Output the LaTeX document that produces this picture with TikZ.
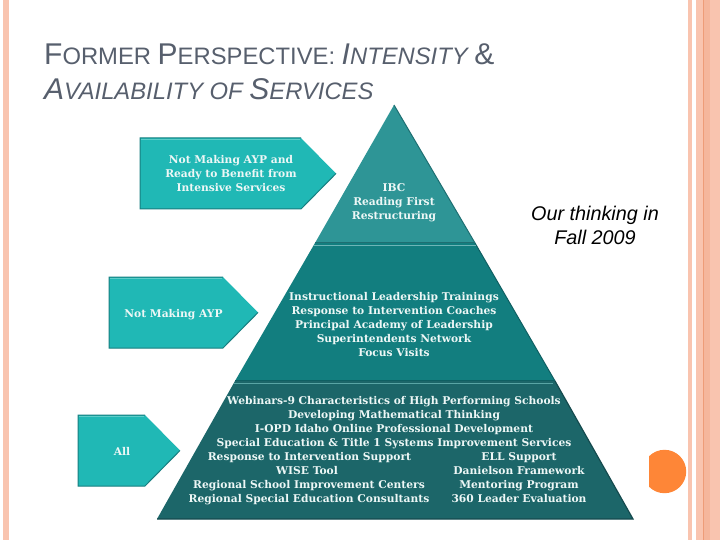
\documentclass[tikz,border=0pt]{standalone}
\usepackage{fontspec}
\setmainfont{Liberation Sans}
\newfontfamily\slabfont{DejaVu Serif}
\definecolor{salmon}{HTML}{F9C4AF}
\definecolor{salmondark}{HTML}{EE9C78}
\definecolor{dotorange}{HTML}{FE8637}
\definecolor{titlegray}{HTML}{575F6D}
\definecolor{tiptop}{HTML}{2E9596}
\definecolor{tipline}{HTML}{1E6F72}
\definecolor{midlayer}{HTML}{127E7F}
\definecolor{midline}{HTML}{0F5F62}
\definecolor{lowlayer}{HTML}{1C6669}
\definecolor{lowline}{HTML}{154A4E}
\definecolor{tagfill}{HTML}{20B8B5}
\definecolor{tagline}{HTML}{187F80}
\definecolor{taglight}{HTML}{5CCDC9}
\definecolor{slabwhite}{HTML}{EDF7F6}
\newcommand{\capsbig}[1]{{\fontsize{30}{30}\selectfont #1}}
\newcommand{\capssmall}[1]{{\fontsize{23.8}{24}\selectfont #1}}
\tikzset{
  slabtext/.style={text=slabwhite,font=\slabfont\bfseries\fontsize{10.7}{12}\selectfont,inner sep=0pt,anchor=base,yshift=-4pt},
  titletext/.style={text=titlegray,inner sep=0pt,anchor=base west,font=\fontsize{23.8}{24}\selectfont},
  notetext/.style={font=\itshape\fontsize{19.8}{24}\selectfont,inner sep=0pt,align=center,text=black}
}
\begin{document}
\begin{tikzpicture}[x=1pt,y=-1pt]
\useasboundingbox (0,0) rectangle (720,540);
\fill[white] (0,0) rectangle (720,540);
% page stripes
\fill[salmon] (3,0) rectangle (9,540);
\fill[salmon] (688,0) rectangle (692,540);
\fill[salmon] (696,0) rectangle (720,540);
\draw[salmondark,line width=0.8pt] (703,0) -- (703,540);
\fill[salmondark!35!salmon] (704,0) rectangle (710,540);
% title
\node[titletext] (titleone) at (44,65) {\capsbig{F}\capssmall{ORMER} \capsbig{P}\capssmall{ERSPECTIVE:} \capsbig{\itshape I}\capssmall{\itshape NTENSITY} \capsbig{\&}};
\node[titletext] (titletwo) at (44,100) {\capsbig{\itshape A}\capssmall{\itshape VAILABILITY OF} \capsbig{\itshape S}\capssmall{\itshape ERVICES}};
% pyramid
\fill[tiptop] (394,105) -- (475,243) -- (315,243) -- cycle;
\draw[tipline,line width=1pt] (394,105) -- (475,243);
\fill[midlayer] (315,243) -- (475,243) -- (555,381) -- (235,381) -- cycle;
\draw[midline,line width=1pt] (475,243) -- (555,381);
\draw[tipline,line width=1pt] (315,242.5) -- (475,242.5);
\draw[tiptop!70!white,line width=0.8pt] (314,245) -- (476,245);
\fill[lowlayer] (235,381) -- (555,381) -- (633,519) -- (157,519) -- cycle;
\draw[lowline,line width=1.2pt] (555,381) -- (633,519) -- (157,519);
\draw[midline,line width=1pt] (235,380.5) -- (555,380.5);
\draw[midlayer!70!white,line width=0.8pt] (234,383) -- (553,383);
% tags on the left
\foreach \xa/\xb/\xc/\ya/\yb in {140/301/336/138/209, 109/223/258/277/348, 78/145/180/415/486}
{
\fill[tagfill] (\xa,\ya) -- (\xb,\ya) -- (\xc,{(\ya+\yb)/2}) -- (\xb,\yb) -- (\xa,\yb) -- cycle;
\draw[tagline,line width=1pt] (\xc,{(\ya+\yb)/2}) -- (\xb,\yb) -- (\xa,\yb) -- (\xa,\ya) -- (\xb,\ya);
\draw[taglight,line width=1.2pt] (\xa+1,\ya+1.5) -- (\xb-1,\ya+1.5);
}
% tag labels
\foreach \y/\t in {160/Not Making AYP and, 174/Ready to Benefit from, 188/Intensive Services}
\node[slabtext] (tagone\y) at (231,\y) {\t};
\node[slabtext] (tagtwo) at (173.5,313) {Not Making AYP};
\node[slabtext] (tagthree) at (122,451) {All};
% pyramid labels
\foreach \y/\t in {188/IBC, 202/Reading First, 216/Restructuring}
\node[slabtext] (tip\y) at (394,\y) {\t};
\foreach \y/\t in {296/Instructional Leadership Trainings, 310/Response to Intervention Coaches, 324/Principal Academy of Leadership, 338/Superintendents Network, 352/Focus Visits}
\node[slabtext] (mid\y) at (394,\y) {\t};
\foreach \y/\t in {400/Webinars-9 Characteristics of High Performing Schools, 414/Developing Mathematical Thinking, 428/I-OPD Idaho Online Professional Development, 442/Special Education \& Title 1 Systems Improvement Services}
\node[slabtext] (low\y) at (394,\y) {\t};
\foreach \y/\x/\t in {456/309.5/Response to Intervention Support, 470/307/WISE Tool, 484/309/Regional School Improvement Centers, 498/309/Regional Special Education Consultants}
\node[slabtext] (lowleft\y) at (\x,\y) {\t};
\foreach \y/\t in {456/ELL Support, 470/Danielson Framework, 484/Mentoring Program, 498/360 Leader Evaluation}
\node[slabtext] (lowright\y) at (519,\y) {\t};
% note and dot
\node[notetext] (note) at (595,225.5) {Our thinking in\\Fall 2009};
\begin{scope}
\clip (649,440) rectangle (700,500);
\fill[dotorange] (664.5,471.5) circle (21.7);
\end{scope}
\end{tikzpicture}
\end{document}
